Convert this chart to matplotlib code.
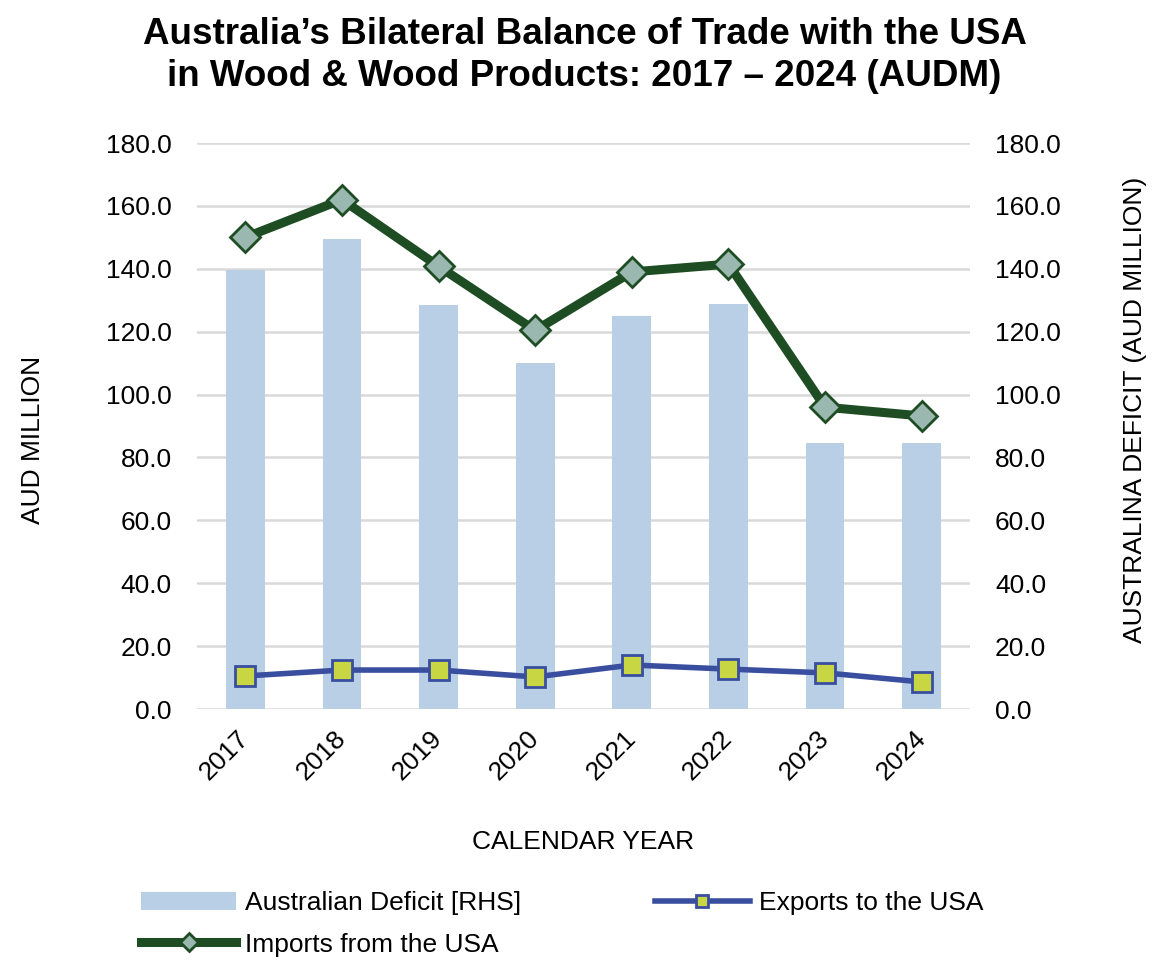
import matplotlib.pyplot as plt
import matplotlib.transforms as mtransforms
import numpy as np

plt.rcParams['font.family'] = ['Liberation Sans', 'DejaVu Sans']

years = ['2017', '2018', '2019', '2020', '2021', '2022', '2023', '2024']
imports_usa = [150.0, 162.0, 140.8, 120.4, 139.0, 141.5, 96.0, 93.2]
exports_usa = [10.5, 12.4, 12.4, 10.2, 14.0, 12.7, 11.5, 8.6]
deficit = [139.5, 149.6, 128.4, 110.2, 125.0, 128.8, 84.5, 84.6]

fs = 19

fig = plt.figure(figsize=(11.69, 9.75), dpi=100)
ax = fig.add_axes([0.1685, 0.2728, 0.6613, 0.5805])
ax2 = ax.twinx()

x = np.arange(len(years))
yt = np.arange(0, 181, 20)

# bars on the right-hand axis
ax2.bar(x, deficit, width=0.4, color='#b9cfe5', zorder=1, label='Australian Deficit [RHS]')
ax2.set_ylim(0, 180)
ax2.set_yticks(yt)
ax2.set_yticklabels([f'{v:.1f}' for v in yt], fontsize=fs)
ax2.set_ylabel('AUSTRALINA DEFICIT (AUD MILLION)', fontsize=fs)
ax2.yaxis.set_label_coords(1.198, 0.528)

# lines in front of bars
ax.set_zorder(ax2.get_zorder() + 1)
ax.patch.set_visible(False)

ax.plot(x, exports_usa, color='#3a4ea0', linewidth=4, marker='s', markersize=15,
        markerfacecolor='#c8d643', markeredgecolor='#3a4ea0', markeredgewidth=2,
        label='Exports to the USA', zorder=3)
ax.plot(x, imports_usa, color='#1e4d23', linewidth=6.5, marker='D', markersize=15,
        markerfacecolor='#9ab8b0', markeredgecolor='#1e4d23', markeredgewidth=2,
        label='Imports from the USA', zorder=3)

ax.set_ylim(0, 180)
ax.set_xlim(-0.5, len(years) - 0.5)
ax.set_yticks(yt)
ax.set_yticklabels([f'{v:.1f}' for v in yt], fontsize=fs)
ax.set_xticks(x)
ax.set_xticklabels(years, rotation=45, fontsize=fs, ha='right', va='top',
                   rotation_mode='anchor')
ax.set_ylabel('AUD MILLION', fontsize=fs)
ax.yaxis.set_label_coords(-0.1966, 0.475)
ax.set_xlabel('CALENDAR YEAR', fontsize=fs)
ax.xaxis.set_label_coords(0.5, -0.214)

ax2.yaxis.grid(True, color='#d9d9d9', linewidth=1.8, zorder=0)
ax2.set_axisbelow(True)
for a in (ax, ax2):
    for s in a.spines.values():
        s.set_visible(False)
    a.tick_params(length=0, pad=18)
ax.tick_params(axis='x', pad=12)

# nudge year labels a little to the left (after tick_params, which resets transforms)
shift = mtransforms.ScaledTranslation(-6 / 72, 0, fig.dpi_scale_trans)
for lbl in ax.get_xticklabels():
    lbl.set_transform(lbl.get_transform() + shift)

fig.text(0.5, 0.983, 'Australia\u2019s Bilateral Balance of Trade with the USA\nin Wood & Wood Products: 2017 \u2013 2024 (AUDM)',
         fontsize=26.5, fontweight='bold', ha='center', va='top', linespacing=1.28)

h1, l1 = ax2.get_legend_handles_labels()
h2, l2 = ax.get_legend_handles_labels()
handles = [h1[0], h2[1], h2[0]]
labels = [l1[0], l2[1], l2[0]]
fig.legend(handles, labels, loc='upper left', bbox_to_anchor=(141 / 1169, 1 - 891 / 975),
           ncol=2, frameon=False, fontsize=fs, handlelength=3.6, columnspacing=5.05,
           handletextpad=0.35, labelspacing=0.67, markerscale=0.6,
           borderpad=0, borderaxespad=0)

plt.savefig('out.png', dpi=100)
